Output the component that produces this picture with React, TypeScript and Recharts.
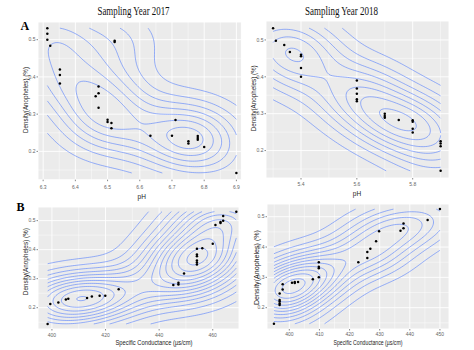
import React, { useMemo } from 'react';
import { CartesianGrid, ComposedChart, Line, ReferenceLine, Scatter, XAxis, YAxis } from 'recharts';

// Panel A, 2017: pH vs Anopheles density
const ph2017 = [
  6.313, 6.313, 6.313, 6.322, 6.352, 6.352, 6.352, 6.472, 6.472, 6.463, 6.472, 6.5, 6.5, 6.512,
  6.512, 6.522, 6.522, 6.711, 6.633, 6.7, 6.751, 6.751, 6.78, 6.78, 6.78, 6.8, 6.9,
];
const densPh2017 = [
  0.531, 0.516, 0.5, 0.484, 0.42, 0.405, 0.382, 0.374, 0.356, 0.348, 0.317, 0.285, 0.279, 0.276,
  0.262, 0.497, 0.494, 0.284, 0.242, 0.242, 0.227, 0.221, 0.241, 0.236, 0.231, 0.212, 0.142,
];

// Panel A, 2018
const ph2018 = [
  5.3, 5.31, 5.34, 5.36, 5.4, 5.4, 5.4, 5.4, 5.6, 5.6, 5.6, 5.6, 5.6, 5.7, 5.7, 5.7, 5.75, 5.8,
  5.8, 5.8, 5.8, 5.9, 5.9, 5.9, 5.9,
];
const densPh2018 = [
  0.532, 0.498, 0.486, 0.467, 0.46, 0.456, 0.424, 0.4, 0.39, 0.368, 0.354, 0.339, 0.334, 0.3,
  0.294, 0.289, 0.283, 0.282, 0.278, 0.259, 0.249, 0.225, 0.219, 0.212, 0.145,
];

// Panel B, 2017: specific conductance vs density
const cond2017 = [
  398.4, 399.4, 402.4, 405.2, 406.1, 413.1, 414.9, 417.8, 419.9, 424.9, 445.3, 447.2, 447.2,
  449.3, 454.1, 454.1, 454.1, 454.1, 454.1, 454.1, 456.1, 460, 461, 462.9, 462.9, 463.9, 463.9,
  468.8,
];
const densCond2017 = [
  0.144, 0.213, 0.218, 0.228, 0.231, 0.233, 0.239, 0.241, 0.241, 0.264, 0.278, 0.28, 0.286,
  0.318, 0.349, 0.356, 0.363, 0.377, 0.383, 0.403, 0.405, 0.42, 0.485, 0.492, 0.495, 0.5, 0.516,
  0.531,
];

// Panel B, 2018
const cond2018 = [
  394.9, 396.8, 396.8, 396.8, 396.8, 396.8, 397.8, 397.8, 400.9, 401.8, 401.8, 402.9, 407.8,
  409.8, 409.8, 409.8, 409.8, 422.9, 425.9, 425.9, 426.9, 428.8, 429.8, 436.9, 437.9, 437.9,
  445.9, 450,
];
const densCond2018 = [
  0.147, 0.209, 0.214, 0.22, 0.225, 0.247, 0.26, 0.277, 0.282, 0.281, 0.285, 0.285, 0.294, 0.3,
  0.33, 0.335, 0.35, 0.35, 0.364, 0.384, 0.394, 0.419, 0.452, 0.454, 0.462, 0.478, 0.489, 0.525,
];

const densTicks = [0.2, 0.3, 0.4, 0.5];
const densMinor = [0.15, 0.25, 0.35, 0.45];

type Pt = { x: number; y: number | null };

// --- geom_density_2d style stat: MASS::kde2d + isolines at pretty() breaks ---
function q7(s: number[], p: number) {
  const h = (s.length - 1) * p;
  const lo = Math.floor(h);
  const hi = Math.min(lo + 1, s.length - 1);
  return s[lo] + (h - lo) * (s[hi] - s[lo]);
}

function bwNrd(v: number[]) {
  const s = [...v].sort((a, b) => a - b);
  const n = v.length;
  const mean = v.reduce((a, b) => a + b, 0) / n;
  const sd = Math.sqrt(v.reduce((a, b) => a + (b - mean) ** 2, 0) / (n - 1));
  const iqr = (q7(s, 0.75) - q7(s, 0.25)) / 1.34;
  return 4 * 1.06 * Math.min(sd, iqr) * Math.pow(n, -0.2);
}

function pretty(lo: number, up: number, ndiv: number) {
  const h = 1.5;
  const h5 = 0.5 + 1.5 * h;
  const cell = (up - lo) / ndiv;
  const base = Math.pow(10, Math.floor(Math.log10(cell)));
  let unit = base;
  if (2 * base - cell < h * (cell - unit)) {
    unit = 2 * base;
    if (5 * base - cell < h5 * (cell - unit)) {
      unit = 5 * base;
      if (10 * base - cell < h * (cell - unit)) unit = 10 * base;
    }
  }
  const ns = Math.floor(lo / unit + 1e-10);
  const nu = Math.ceil(up / unit - 1e-10);
  const out: number[] = [];
  for (let k = ns; k <= nu; k++) out.push(k * unit);
  return out;
}

function isolines(gx: number[], gy: number[], z: number[][], lv: number) {
  const pos = new Map<string, Pt>();
  const adj = new Map<string, string[]>();
  const hKey = (i: number, j: number) => {
    const k = `h${i}_${j}`;
    if (!pos.has(k)) {
      const t = (lv - z[i][j]) / (z[i + 1][j] - z[i][j]);
      pos.set(k, { x: gx[i] + t * (gx[i + 1] - gx[i]), y: gy[j] });
    }
    return k;
  };
  const vKey = (i: number, j: number) => {
    const k = `v${i}_${j}`;
    if (!pos.has(k)) {
      const t = (lv - z[i][j]) / (z[i][j + 1] - z[i][j]);
      pos.set(k, { x: gx[i], y: gy[j] + t * (gy[j + 1] - gy[j]) });
    }
    return k;
  };
  const link = (a: string, b: string) => {
    if (!adj.has(a)) adj.set(a, []);
    if (!adj.has(b)) adj.set(b, []);
    adj.get(a)!.push(b);
    adj.get(b)!.push(a);
  };
  for (let i = 0; i < gx.length - 1; i++) {
    for (let j = 0; j < gy.length - 1; j++) {
      const a = z[i][j] > lv;
      const b = z[i + 1][j] > lv;
      const c = z[i + 1][j + 1] > lv;
      const d = z[i][j + 1] > lv;
      const B = a !== b ? hKey(i, j) : null;
      const R = b !== c ? vKey(i + 1, j) : null;
      const T = d !== c ? hKey(i, j + 1) : null;
      const L = a !== d ? vKey(i, j) : null;
      const list = [B, R, T, L].filter((e): e is string => e !== null);
      if (list.length === 2) link(list[0], list[1]);
      else if (list.length === 4) {
        const center = (z[i][j] + z[i + 1][j] + z[i + 1][j + 1] + z[i][j + 1]) / 4 > lv;
        if (a !== center) {
          link(B!, L!);
          link(R!, T!);
        } else {
          link(B!, R!);
          link(T!, L!);
        }
      }
    }
  }
  const seen = new Set<string>();
  const lines: Pt[][] = [];
  const walk = (start: string) => {
    const line: Pt[] = [pos.get(start)!];
    seen.add(start);
    let prev = '';
    let cur = start;
    for (;;) {
      const next = adj.get(cur)!.find((n) => n !== prev && !seen.has(n));
      if (!next) {
        if (cur !== start && prev !== start && adj.get(cur)!.includes(start)) line.push(pos.get(start)!);
        break;
      }
      line.push(pos.get(next)!);
      seen.add(next);
      prev = cur;
      cur = next;
    }
    lines.push(line);
  };
  for (const [k, v] of adj) if (v.length === 1 && !seen.has(k)) walk(k);
  for (const k of adj.keys()) if (!seen.has(k)) walk(k);
  return lines;
}

function densityContours(xs: number[], ys: number[]): Pt[] {
  const n = 100;
  const hx = bwNrd(xs) / 4;
  const hy = bwNrd(ys) / 4;
  const x0 = Math.min(...xs), x1 = Math.max(...xs);
  const y0 = Math.min(...ys), y1 = Math.max(...ys);
  const gx = Array.from({ length: n }, (_, i) => x0 + ((x1 - x0) * i) / (n - 1));
  const gy = Array.from({ length: n }, (_, i) => y0 + ((y1 - y0) * i) / (n - 1));
  const phi = (u: number) => Math.exp(-0.5 * u * u) / Math.sqrt(2 * Math.PI);
  const z = gx.map((gxi) =>
    gy.map((gyj) => {
      let s = 0;
      for (let k = 0; k < xs.length; k++) s += phi((gxi - xs[k]) / hx) * phi((gyj - ys[k]) / hy);
      return s / (xs.length * hx * hy);
    })
  );
  let zmin = Infinity, zmax = -Infinity;
  z.forEach((r) => r.forEach((v) => { zmin = Math.min(zmin, v); zmax = Math.max(zmax, v); }));
  const out: Pt[] = [];
  for (const lv of pretty(zmin, zmax, 10)) {
    for (const l of isolines(gx, gy, z, lv)) {
      out.push(...l, { x: l[l.length - 1].x as number, y: null });
    }
  }
  return out;
}

type Panel = {
  id: string;
  xs: number[];
  ys: number[];
  box: { l: number; t: number; r: number; b: number };
  xDomain: [number, number];
  yDomain: [number, number];
  xTicks: number[];
  xMinor: number[];
  tickGap: number;
};

const panels: Panel[] = [
  {
    id: 'ph2017', xs: ph2017, ys: densPh2017,
    box: { l: 38.3, t: 22.3, r: 241.7, b: 180 },
    xDomain: [6.284, 6.9155], yDomain: [0.124, 0.5475],
    xTicks: [6.3, 6.4, 6.5, 6.6, 6.7, 6.8, 6.9], xMinor: [6.35, 6.45, 6.55, 6.65, 6.75, 6.85],
    tickGap: 4.5,
  },
  {
    id: 'ph2018', xs: ph2018, ys: densPh2018,
    box: { l: 266, t: 21, r: 449, b: 178 },
    xDomain: [5.2746, 5.93], yDomain: [0.1256, 0.5514],
    xTicks: [5.4, 5.6, 5.8], xMinor: [5.3, 5.5, 5.7, 5.9],
    tickGap: 2.8,
  },
  {
    id: 'cond2017', xs: cond2017, ys: densCond2017,
    box: { l: 38.3, t: 207.3, r: 239.3, b: 329.3 },
    xDomain: [394.8, 469.8], yDomain: [0.1266, 0.547],
    xTicks: [400, 420, 440, 460], xMinor: [410, 430, 450],
    tickGap: 2.5,
  },
  {
    id: 'cond2018', xs: cond2018, ys: densCond2018,
    box: { l: 267, t: 204, r: 449, b: 329 },
    xDomain: [392.6, 453], yDomain: [0.1297, 0.5419],
    xTicks: [400, 410, 420, 430, 440, 450], xMinor: [395, 405, 415, 425, 435, 445],
    tickGap: 2.3,
  },
];

const YW = 20;
const XH = 14;
const MT = 3;
const MR = 3;
const tickStyle = { fontSize: 5, fill: '#666' };

const Dot = (props: any) => <circle cx={props.cx} cy={props.cy} r={1.25} fill="#000" />;

function DensityPanel({ p }: { p: Panel }) {
  const contour = useMemo(() => densityContours(p.xs, p.ys), [p]);
  const points = p.xs.map((x, i) => ({ x, y: p.ys[i] }));
  const { l, t, r, b } = p.box;
  return (
    <div style={{ position: 'absolute', left: l - YW, top: t - MT }}>
      <ComposedChart width={r - l + YW + MR} height={b - t + MT + XH} margin={{ top: MT, right: MR, left: 0, bottom: 0 }}>
        <CartesianGrid fill="#EBEBEB" stroke="#fff" strokeWidth={0.9} />
        {p.xMinor.map((v) => (
          <ReferenceLine key={`x${v}`} x={v} stroke="#fff" strokeWidth={0.45} />
        ))}
        {densMinor.map((v) => (
          <ReferenceLine key={`y${v}`} y={v} stroke="#fff" strokeWidth={0.45} />
        ))}
        <XAxis
          type="number" dataKey="x" domain={p.xDomain} ticks={p.xTicks} interval={0} allowDataOverflow
          height={XH} tick={tickStyle} tickSize={1.5} tickMargin={p.tickGap} axisLine={false} tickLine={{ stroke: '#888' }}
        />
        <YAxis
          type="number" dataKey="y" domain={p.yDomain} ticks={densTicks} interval={0} allowDataOverflow
          width={YW} tick={tickStyle} tickSize={1.5} tickMargin={1} axisLine={false} tickLine={{ stroke: '#888' }}
        />
        <Line
          data={contour} dataKey="y" type="linear" stroke="#3366FF" strokeOpacity={0.7} strokeWidth={0.7}
          dot={false} activeDot={false} connectNulls={false} isAnimationActive={false}
        />
        <Scatter data={points} shape={Dot} isAnimationActive={false} />
      </ComposedChart>
    </div>
  );
}

const serif = '"Liberation Serif", "Times New Roman", serif';

export default function App() {
  return (
    <div
      style={{
        position: 'absolute', left: 0, top: 0, width: 474, height: 350, background: '#fff', overflow: 'hidden',
        fontFamily: '"Liberation Sans", Arial, sans-serif',
      }}
    >
      {panels.map((p) => (
        <DensityPanel key={p.id} p={p} />
      ))}
      <svg width={474} height={350} style={{ position: 'absolute', left: 0, top: 0, pointerEvents: 'none' }}>
        <text x={133.5} y={14.5} fontFamily={serif} fontSize={11.5} textAnchor="middle" textLength={72} lengthAdjust="spacingAndGlyphs" fill="#111">
          Sampling Year 2017
        </text>
        <text x={341.5} y={14.5} fontFamily={serif} fontSize={11.5} textAnchor="middle" textLength={73} lengthAdjust="spacingAndGlyphs" fill="#111">
          Sampling Year 2018
        </text>
        <text x={20.5} y={29.5} fontFamily={serif} fontSize={12} fontWeight="bold" fill="#000">A</text>
        <text x={16.5} y={211} fontFamily={serif} fontSize={12} fontWeight="bold" fill="#000">B</text>

        <g fontSize={6.5} fill="#222" textAnchor="middle">
          <text x={141.7} y={198.5}>pH</text>
          <text x={357} y={196}>pH</text>
          <text x={154} y={344.5} textLength={77} lengthAdjust="spacingAndGlyphs">Specific Conductance  (µs/cm)</text>
          <text x={368} y={344.5} textLength={69} lengthAdjust="spacingAndGlyphs">Specific Conductance  (µs/cm)</text>
          <text x={25.7} y={100} dominantBaseline="central" transform="rotate(-90 25.7 100)" textLength={66} lengthAdjust="spacingAndGlyphs">
            Density(Anopheles)   (%)
          </text>
          <text x={254} y={98.3} dominantBaseline="central" transform="rotate(-90 254 98.3)" textLength={66} lengthAdjust="spacingAndGlyphs">
            Density(Anopheles) (%)
          </text>
          <text x={26} y={261.7} dominantBaseline="central" transform="rotate(-90 26 261.7)" textLength={67} lengthAdjust="spacingAndGlyphs">
            Density(Anopheles) (%)
          </text>
          <text x={256.7} y={267.5} dominantBaseline="central" transform="rotate(-90 256.7 267.5)" textLength={75} lengthAdjust="spacingAndGlyphs">
            Density(Anopheles)   (%)
          </text>
        </g>
      </svg>
    </div>
  );
}
